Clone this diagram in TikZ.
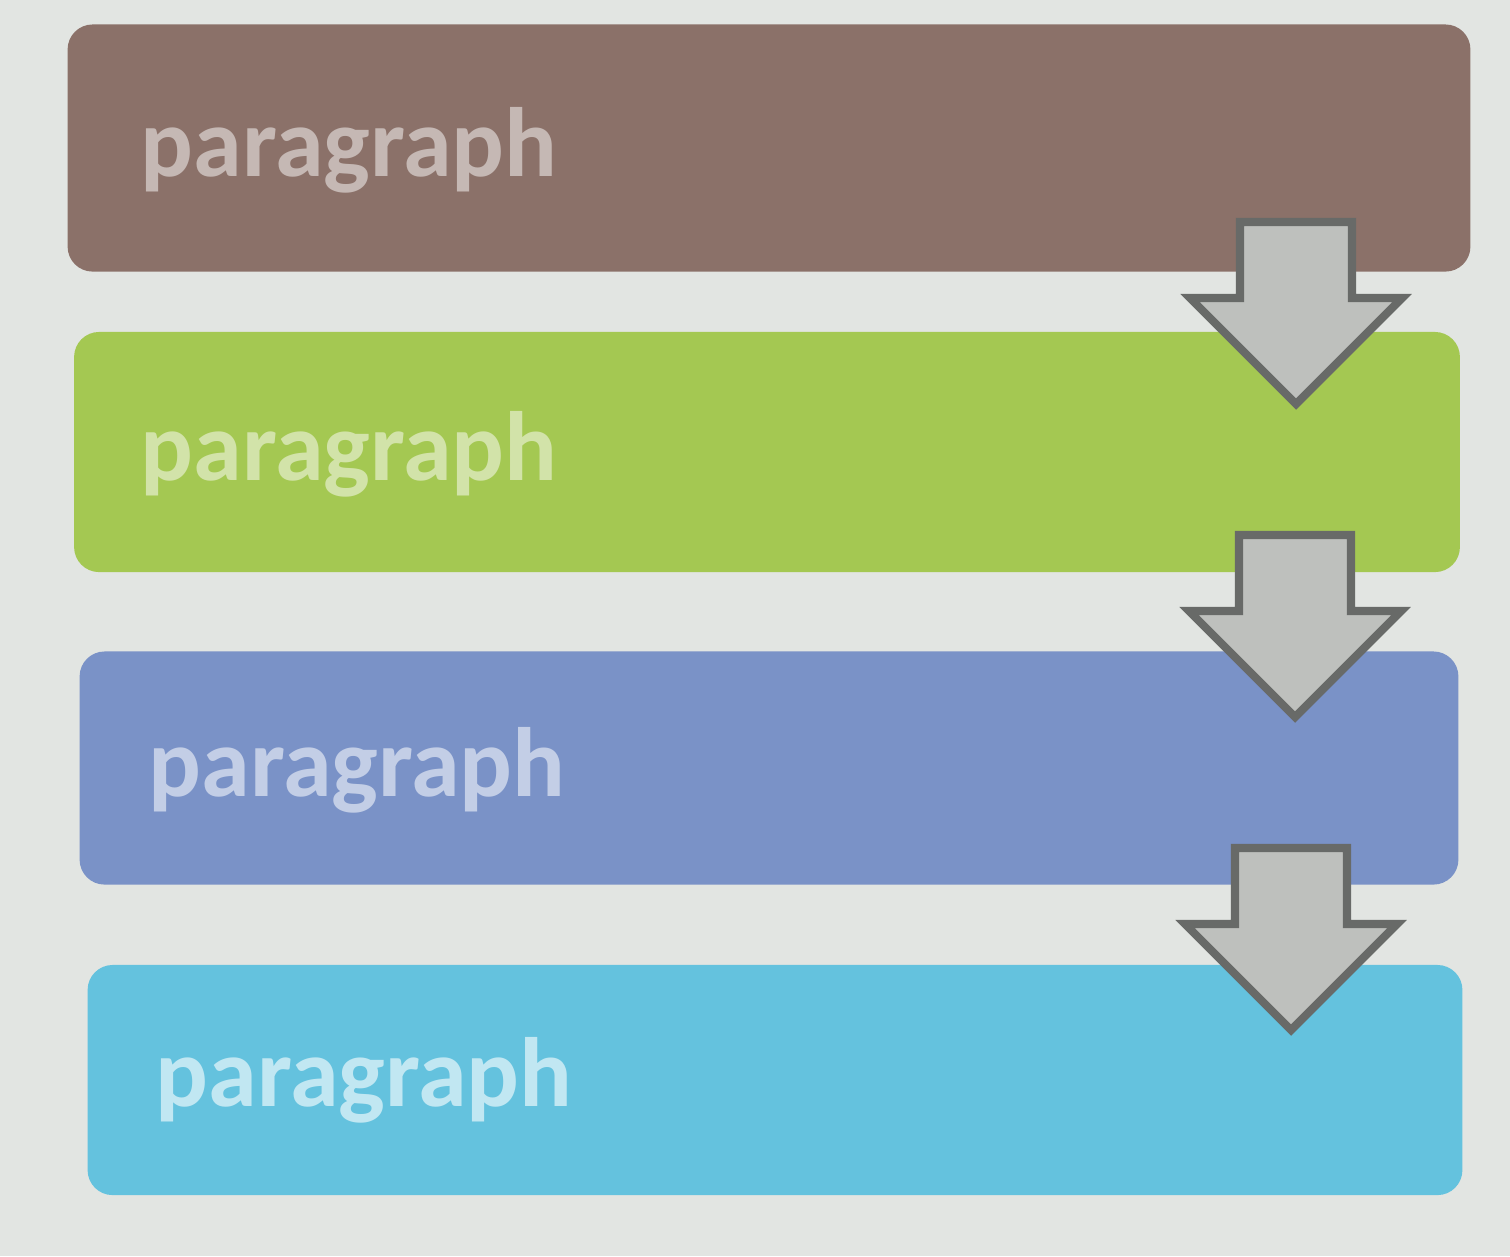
\documentclass[tikz,border=0pt]{standalone}
\usepackage{fontspec}
\setmainfont{Carlito}
\definecolor{paper}{RGB}{226,229,226}
\definecolor{barbrown}{RGB}{139,113,105}
\definecolor{bargreen}{RGB}{164,200,82}
\definecolor{barblue}{RGB}{122,146,199}
\definecolor{barcyan}{RGB}{100,194,222}
\definecolor{arrowfill}{RGB}{190,192,189}
\definecolor{arrowline}{RGB}{104,106,104}
\tikzset{
  bar/.style={rectangle, rounded corners=0.25cm, inner sep=0pt},
  bartext/.style={anchor=base west, inner sep=0pt, font={\fontsize{28}{30}\selectfont\bfseries}},
  downarrow/.style={fill=arrowfill, draw=arrowline, line width=2.3pt, line join=miter}
}
\begin{document}
\begin{tikzpicture}[x=0.01cm, y=-0.01cm]
    \fill[paper] (0,0) rectangle (1510,1256);
    \useasboundingbox (0,0) rectangle (1510,1256);
    % the four bars
    \node[bar, fill=barbrown, minimum width=14.02cm, minimum height=2.47cm] (bar1) at (769,148) {};
    \node[bar, fill=bargreen, minimum width=13.85cm, minimum height=2.40cm] (bar2) at (767,452) {};
    \node[bar, fill=barblue, minimum width=13.78cm, minimum height=2.33cm] (bar3) at (769,768) {};
    \node[bar, fill=barcyan, minimum width=13.74cm, minimum height=2.30cm] (bar4) at (775,1080) {};
    \node[bartext, text=barbrown!50!white] (text1) at (140,176) {paragraph};
    \node[bartext, text=bargreen!50!white] (text2) at (140,480) {paragraph};
    \node[bartext, text=barblue!45!white] (text3) at (148,796) {paragraph};
    \node[bartext, text=barcyan!40!white] (text4) at (155,1106) {paragraph};
    % arrows between the bars
    \foreach \x/\y in {1296/222, 1295/535, 1291/848}
        \draw[downarrow] (\x-56,\y) -- (\x+56,\y) -- (\x+56,\y+76) -- (\x+106,\y+76)
            -- (\x,\y+182) -- (\x-106,\y+76) -- (\x-56,\y+76) -- cycle;
\end{tikzpicture}
\end{document}
